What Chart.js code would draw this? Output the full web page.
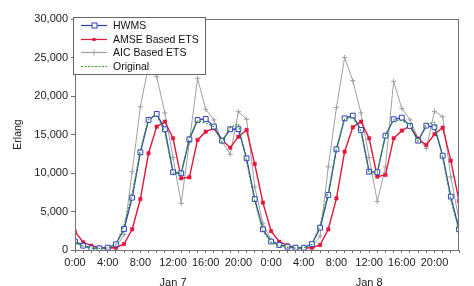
<!DOCTYPE html>
<html><head><meta charset="utf-8">
<script src="https://cdn.jsdelivr.net/npm/chart.js@4.4.0/dist/chart.umd.min.js"></script>
<style>html,body{margin:0;padding:0;background:#fff;}#wrap{width:474px;height:286px;}</style>
</head><body><div id="wrap"><canvas id="c" width="474" height="286"></canvas></div>
<script>
const hours = Array.from({length:48},(_,i)=>i);
const hwms = [1080,560,220,220,300,740,2730,6800,12690,16890,17670,15680,
  10100,9960,14380,16890,17020,16020,14200,15680,15700,11910,6620,2690,
  1100,650,430,300,300,780,2900,7140,13080,17100,17450,15590,
  10170,10090,14850,16980,17190,16110,14200,16150,15940,12250,6930,2690];
const amse = [2380,1000,560,300,300,300,780,2690,6620,12560,16020,16670,
  14510,9310,9440,14290,15370,15800,14290,13290,14720,15590,11170,6150,
  2450,1080,600,300,250,300,650,2690,6710,12770,15940,16670,
  14510,9530,9740,14510,15500,16110,14420,13640,15030,15890,11600,6370];
const aic = [1200,600,300,200,200,300,2000,10170,18600,24000,22500,17800,
  12000,6060,14000,22300,18270,16890,14070,12430,17970,16980,8220,3470,
  1300,700,350,250,250,350,1800,10800,18500,25000,22000,17800,
  12000,6300,10800,21900,18400,16900,14500,13200,18000,17300,9500,3900];
const original = [1000,500,250,200,250,700,3200,7300,13000,17000,17500,15300,
  10000,9900,14600,16800,16500,16000,14000,15900,16400,11500,6300,2500,
  1000,550,350,250,280,750,3200,7500,13200,17000,17300,15400,
  10000,10000,15000,16900,16800,16300,14100,16300,16600,12000,6500,2500];
const seriesNames = ['HWMS','AMSE Based ETS','AIC Based ETS','Original'];
const dayLabels = ['Jan 7','Jan 8'];
const dayCenters = [12,36];
const yTitle = 'Erlang';

const FONT = '"Liberation Sans", Arial, sans-serif';
const C_BLUE='#2f3fc2', C_RED='#e3173a', C_GRAY='#a0a0a0', C_GREEN='#3a9a2a';
const pts = a => a.map((v,i)=>({x:hours[i],y:v}));

const frame = {
  id:'frame',
  afterDatasetsDraw(chart){
    const {ctx, chartArea:a} = chart;
    ctx.save();
    ctx.strokeStyle='#707070'; ctx.lineWidth=1;
    ctx.strokeRect(Math.round(a.left)+0.5, Math.round(a.top)+0.5, Math.round(a.right-a.left)-1, Math.round(a.bottom-a.top));
    const lx=73.5, ly=17.5, lw=132, lh=57;
    ctx.fillStyle='#fff'; ctx.fillRect(lx,ly,lw,lh);
    ctx.strokeStyle='#666'; ctx.strokeRect(lx,ly,lw,lh);
    const styles=[
      {c:C_BLUE, m:'open'},{c:C_RED,m:'fill'},{c:C_GRAY,m:'cross'},{c:C_GREEN,m:'dash'}];
    ctx.font='10.5px '+FONT; ctx.textBaseline='middle'; ctx.textAlign='left';
    styles.forEach((s,i)=>{
      const y=Math.round(25+i*13.7)+0.5;
      ctx.strokeStyle=s.c; ctx.lineWidth=1.2;
      ctx.setLineDash(s.m==='dash'?[2,1.5]:[]);
      ctx.beginPath(); ctx.moveTo(81,y); ctx.lineTo(107,y); ctx.stroke();
      ctx.setLineDash([]);
      if(s.m==='open'){ctx.fillStyle='#fff';ctx.fillRect(92,y-2.5,5,5);ctx.lineWidth=1;ctx.strokeRect(92,y-2.5,5,5);}
      if(s.m==='fill'){ctx.fillStyle=s.c;ctx.fillRect(92.5,y-1.5,3,3);}
      if(s.m==='cross'){ctx.lineWidth=1;ctx.beginPath();ctx.moveTo(94,y-3);ctx.lineTo(94,y+3);ctx.stroke();}
      ctx.fillStyle='#111'; ctx.fillText(seriesNames[i],113,y+0.5);
    });
    ctx.restore();
  }
};

new Chart(document.getElementById('c'),{
  type:'line',
  data:{datasets:[
    {label:seriesNames[3],data:pts(original),borderColor:C_GREEN,borderWidth:1.2,borderDash:[2,1.5],pointRadius:0,order:1},
    {label:seriesNames[0],data:pts(hwms),borderColor:C_BLUE,borderWidth:1.3,pointStyle:'rect',pointRadius:3.4,pointBackgroundColor:'#fff',pointBorderColor:C_BLUE,pointBorderWidth:1,order:2},
    {label:seriesNames[1],data:pts(amse),borderColor:C_RED,borderWidth:1.4,pointStyle:'rect',pointRadius:2.4,pointBackgroundColor:C_RED,pointBorderColor:C_RED,pointBorderWidth:0.5,order:3},
    {label:seriesNames[2],data:pts(aic),borderColor:C_GRAY,borderWidth:1,pointStyle:'cross',pointRadius:2.6,pointBorderColor:C_GRAY,pointBorderWidth:1,order:4}
  ]},
  options:{
    animation:false,responsive:false,
    layout:{padding:{top:19,right:15,left:0,bottom:0}},
    elements:{line:{tension:0}},
    plugins:{legend:{display:false},tooltip:{enabled:false}},
    scales:{
      x:{type:'linear',min:0,max:47,position:'bottom',
        afterBuildTicks:s=>{s.ticks=hours.map(h=>({value:h}));},
        afterFit:s=>{s.height=22;},
        grid:{drawOnChartArea:false,drawTicks:true,tickLength:3,color:'#707070'},
        border:{display:true,color:'#707070'},
        ticks:{autoSkip:false,maxRotation:0,padding:3,color:'#222',font:{family:FONT,size:11},
          callback:v=> (v%4===0)? (v%24)+':00' : ''}},
      x2:{type:'linear',min:0,max:47,position:'bottom',
        afterBuildTicks:s=>{s.ticks=dayCenters.map(v=>({value:v}));},
        afterFit:s=>{s.height=14;},
        grid:{display:false,drawTicks:false},border:{display:false},
        ticks:{autoSkip:false,maxRotation:0,padding:4,color:'#222',font:{family:FONT,size:11},
          callback:v=>dayLabels[dayCenters.indexOf(v)]}},
      y:{min:0,max:30000,
        afterBuildTicks:s=>{s.ticks=[0,5000,10000,15000,20000,25000,30000].map(v=>({value:v}));},
        afterFit:s=>{s.width=75;},
        grid:{drawOnChartArea:false,tickLength:4,color:'#707070'},
        border:{display:true,color:'#707070'},
        title:{display:true,text:yTitle,color:'#222',font:{family:FONT,size:10.5},padding:{top:12,bottom:4}},
        ticks:{padding:3,color:'#222',font:{family:FONT,size:11},callback:v=>v.toLocaleString('en-US')}}
    }
  },
  plugins:[frame]
});
</script>
</body></html>
